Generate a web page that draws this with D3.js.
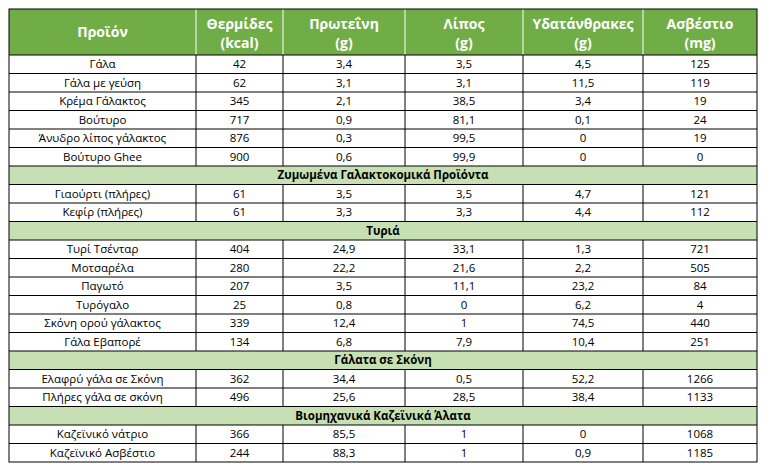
<!DOCTYPE html>
<html><head><meta charset="utf-8">
<script src="https://cdn.jsdelivr.net/npm/d3@7"></script>
<style>body{margin:0;background:#fff}</style></head>
<body><svg id="c" width="767" height="475"></svg>
<script>
const headers=[["Προϊόν"],["Θερμίδες","(kcal)"],["Πρωτεΐνη","(g)"],["Λίπος","(g)"],["Υδατάνθρακες","(g)"],["Ασβέστιο","(mg)"]];
const rows=[
["Γάλα","42","3,4","3,5","4,5","125"],
["Γάλα με γεύση","62","3,1","3,1","11,5","119"],
["Κρέμα Γάλακτος","345","2,1","38,5","3,4","19"],
["Βούτυρο","717","0,9","81,1","0,1","24"],
["Άνυδρο λίπος γάλακτος","876","0,3","99,5","0","19"],
["Βούτυρο Ghee","900","0,6","99,9","0","0"],
["Ζυμωμένα Γαλακτοκομικά Προϊόντα"],
["Γιαούρτι (πλήρες)","61","3,5","3,5","4,7","121"],
["Κεφίρ (πλήρες)","61","3,3","3,3","4,4","112"],
["Τυριά"],
["Τυρί Τσένταρ","404","24,9","33,1","1,3","721"],
["Μοτσαρέλα","280","22,2","21,6","2,2","505"],
["Παγωτό","207","3,5","11,1","23,2","84"],
["Τυρόγαλο","25","0,8","0","6,2","4"],
["Σκόνη ορού γάλακτος","339","12,4","1","74,5","440"],
["Γάλα Εβαπορέ","134","6,8","7,9","10,4","251"],
["Γάλατα σε Σκόνη"],
["Ελαφρύ  γάλα σε Σκόνη","362","34,4","0,5","52,2","1266"],
["Πλήρες γάλα σε σκόνη","496","25,6","28,5","38,4","1133"],
["Βιομηχανικά Καζεϊνικά Άλατα"],
["Καζεϊνικό νάτριο","366","85,5","1","0","1068"],
["Καζεϊνικό Ασβέστιο","244","88,3","1","0,9","1185"]];
const colEdges=[9,196,283,405,523,643,757];
const svg=d3.select("#c");
const T0=9,hh=46,rh=(462-55)/rows.length;
const y=d3.scaleLinear().domain([0,rows.length]).range([T0+hh,462]);
const F="'Open Sans','Noto Sans',sans-serif";
svg.append("rect").attr("x",9).attr("y",T0).attr("width",748).attr("height",hh).attr("fill","#70AD47");
headers.forEach((h,i)=>{const cx=(colEdges[i]+colEdges[i+1])/2;
 h.forEach((t,j)=>svg.append("text").attr("x",cx).attr("y",h.length==1?T0+hh/2+5:T0+20+j*19).attr("text-anchor","middle")
 .attr("font-family",F).attr("font-weight","bold").attr("font-size",14).attr("fill","#fff").text(t));
 if(i>0)svg.append("line").attr("x1",colEdges[i]).attr("x2",colEdges[i]).attr("y1",T0).attr("y2",T0+hh).attr("stroke","#fff");});
rows.forEach((r,i)=>{const y0=y(i);
 if(r.length==1){svg.append("rect").attr("x",9).attr("y",y0).attr("width",748).attr("height",rh).attr("fill","#C6E0B4");
  svg.append("text").attr("x",383).attr("y",y0+rh/2+4).attr("text-anchor","middle").attr("font-family",F).attr("font-weight","bold").attr("font-size",11.5).attr("fill","#000").text(r[0]);}
 else{r.forEach((t,j)=>svg.append("text").attr("x",(colEdges[j]+colEdges[j+1])/2).attr("y",y0+rh/2+4).attr("text-anchor","middle").attr("font-family",F).attr("font-size",11.5).attr("fill","#000").text(t));
  for(let j=1;j<6;j++)svg.append("line").attr("x1",colEdges[j]).attr("x2",colEdges[j]).attr("y1",y0).attr("y2",y0+rh).attr("stroke","#000");}
 svg.append("line").attr("x1",9).attr("x2",757).attr("y1",y0).attr("y2",y0).attr("stroke","#000");});
svg.append("rect").attr("x",9).attr("y",T0).attr("width",748).attr("height",462-T0).attr("fill","none").attr("stroke","#000");
</script></body></html>
